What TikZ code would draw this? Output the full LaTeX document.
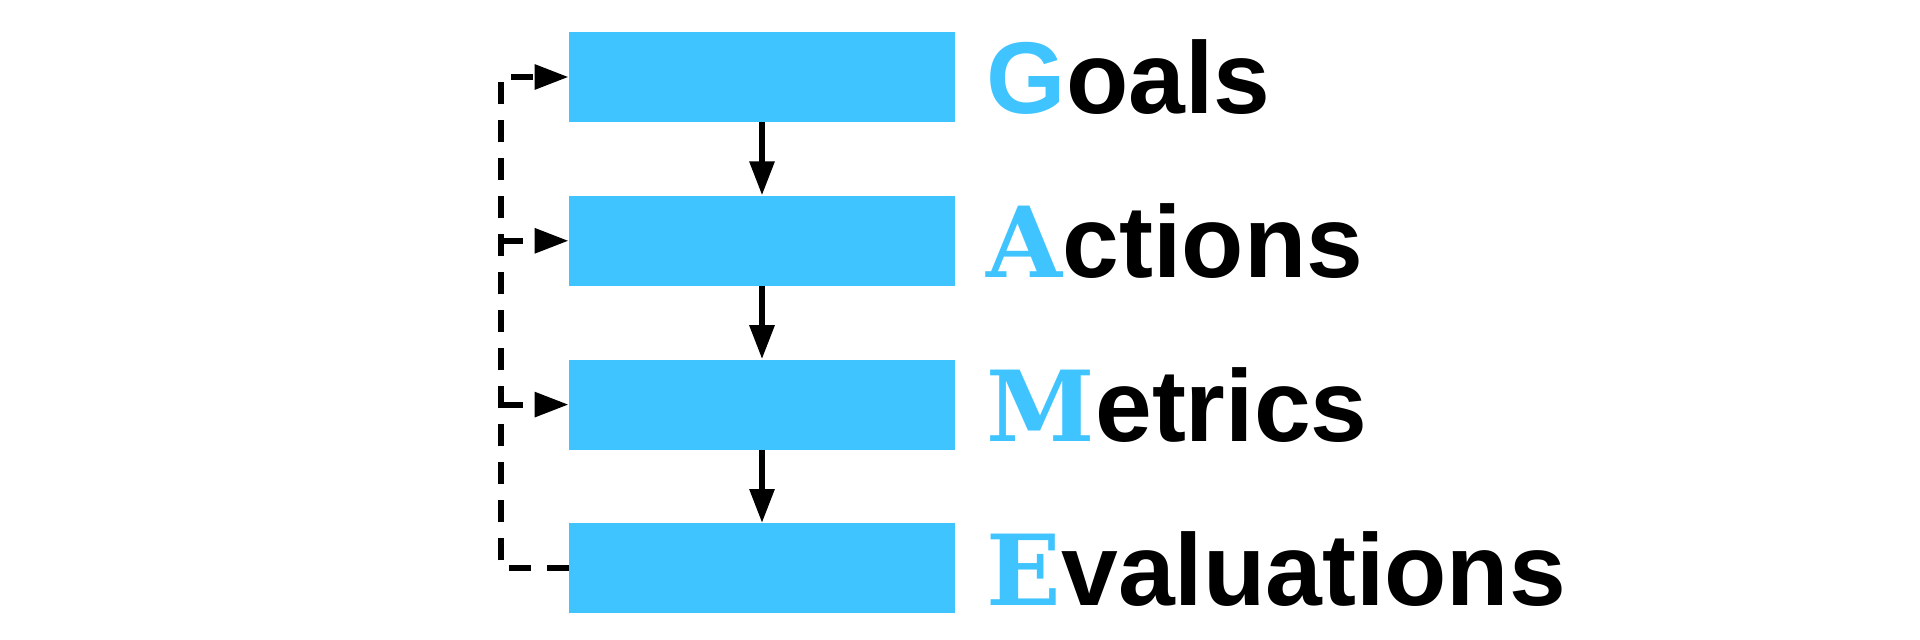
\documentclass[tikz,border=0pt]{standalone}
\usepackage{fontspec}
\setmainfont{Liberation Sans}
\newfontfamily\slab{DejaVu Serif}[BoldFont={DejaVu Serif Bold}]
\newcommand\initial[1]{{\slab\bfseries\fontsize{49}{60}\selectfont\color{gameblue}#1}}
\usetikzlibrary{arrows.meta,positioning}
\definecolor{gameblue}{HTML}{40C4FF}
\begin{document}
\begin{tikzpicture}[x=0.5pt,y=-0.5pt,
   bar/.style={fill=gameblue,minimum width=193pt,minimum height=45pt,inner sep=0pt},
   word/.style={font=\fontsize{51}{60}\selectfont\bfseries,inner sep=0pt,text height=37pt,text depth=0pt},
   down/.style={line width=3pt,-{Triangle[length=17pt,width=12pt]}},
   back/.style={down,dash pattern=on 11pt off 8pt}]
   \useasboundingbox (0,0) rectangle (1920,640);
   \node[bar] (goal) at (762,77) {};
   \node[bar,below=36.5pt of goal] (act) {};
   \node[bar,below=36.5pt of act] (met) {};
   \node[bar,below=36.5pt of met] (ev) {};
   \node[word,right=15.5pt of goal] (goalw) {\textcolor{gameblue}{G}oals};
   \node[word,right=15.5pt of act] (actw) {\initial{A}ctions};
   \node[word,right=15.5pt of met] (metw) {\initial{M}etrics};
   \node[word,right=15.5pt of ev] (evw) {\initial{E}valuations};
   \draw[down] (goal) -- (act);
   \draw[down] (act) -- (met);
   \draw[down] (met) -- (ev);
   \coordinate[left=34pt of ev.west] (foot);
   \draw[back] (ev.west) -- (foot) |- (goal.west);
   \draw[back] (foot |- act.west) -- (act.west);
   \draw[back] (foot |- met.west) -- (met.west);
\end{tikzpicture}
\end{document}
